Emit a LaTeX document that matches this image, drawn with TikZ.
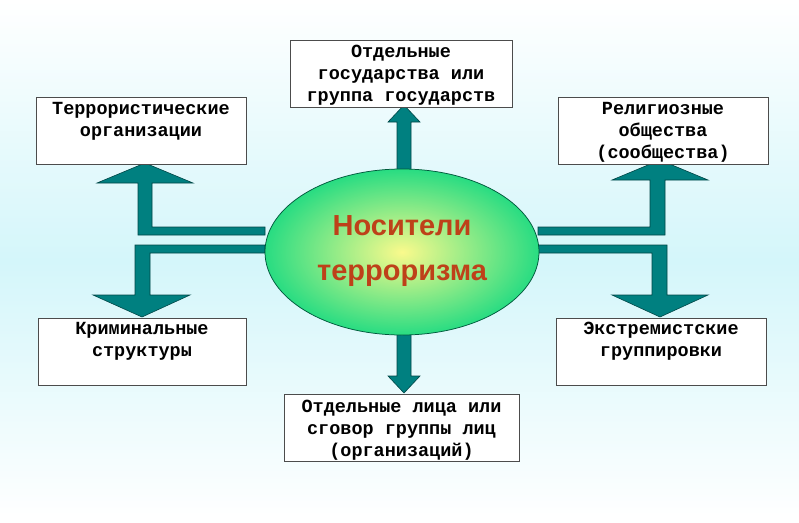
\documentclass[tikz,border=0pt]{standalone}
\usepackage{fontspec}
\setmainfont{Liberation Serif}
\newfontfamily\headfont{Liberation Sans}
\newfontfamily\boxfont{Liberation Mono}
\definecolor{arrowteal}{RGB}{0,128,128}
\definecolor{headred}{RGB}{190,65,25}
\definecolor{bgcyan}{RGB}{212,246,250}
\tikzset{every picture/.style={line width=0.75pt}}
\tikzset{
  infobox/.style={draw=black!70,fill=white,minimum height=67},
  boxtext/.style={anchor=north,inner sep=0pt,align=center,font=\boxfont\bfseries\fontsize{18.5}{22}\selectfont},
  tealarrow/.style={draw={rgb, 255:red, 0; green, 70; blue, 70},fill=arrowteal,line width=0.6pt}
}
\begin{document}
\begin{tikzpicture}[x=1pt,y=1pt,yscale=-1,xscale=1]
%background
\shade [top color=white,bottom color=bgcyan,shading angle=0] (0,0) rectangle (799,261);
\shade [top color=bgcyan,bottom color=white] (0,261) rectangle (799,522);
\useasboundingbox (0,0) rectangle (799,522);

%Arrows: upper left
\draw [tealarrow] (265,227) -- (152,227) -- (152,183) -- (193,183) -- (145,163) -- (97,183) -- (138,183) -- (138,235) -- (265,235) -- cycle ;
%Arrows: lower left
\draw [tealarrow] (265,245) -- (135,245) -- (135,295) -- (93,295) -- (142,317) -- (190,295) -- (150,295) -- (150,253) -- (265,253) -- cycle ;
%Arrows: upper right
\draw [tealarrow] (538,227) -- (650,227) -- (650,180) -- (612,180) -- (660,160) -- (708,180) -- (665,180) -- (665,235) -- (538,235) -- cycle ;
%Arrows: lower right
\draw [tealarrow] (538,245) -- (667,245) -- (667,295) -- (708,295) -- (660,317) -- (612,295) -- (652,295) -- (652,253) -- (538,253) -- cycle ;
%Arrows: top
\draw [tealarrow] (397,175) -- (397,122) -- (388,122) -- (404,105) -- (420,122) -- (411,122) -- (411,175) -- cycle ;
%Arrows: bottom
\draw [tealarrow] (397,330) -- (397,376) -- (388,376) -- (404,393) -- (420,376) -- (411,376) -- (411,330) -- cycle ;

%Ellipse
\shade [inner color={rgb,255:red,250;green,250;blue,140},outer color={rgb,255:red,40;green,220;blue,130}] (402,252) ellipse (137 and 83);
\draw [draw={rgb,255:red,0;green,90;blue,60}] (402,252) ellipse (137 and 83);
\node (centre) at (402,251) [align=center,text=headred,font=\headfont\bfseries\fontsize{29}{45}\selectfont] {Носители\\терроризма};

%Boxes
\node (states) at (401,73.5) [infobox,minimum width=222] {};
\node (terror) at (141,130.5) [infobox,minimum width=210] {};
\node (relig) at (663,130.5) [infobox,minimum width=210] {};
\node (crim) at (142,351.5) [infobox,minimum width=208] {};
\node (extrem) at (661,351.5) [infobox,minimum width=210] {};
\node (persons) at (401.5,428) [infobox,minimum width=235] {};

% Text Node
\node (statestxt) at (401,45) [boxtext] {Отдельные\\государства или\\группа государств};
\node (terrortxt) at (141,102) [boxtext] {Террористические\\организации};
\node (religtxt) at (663,102) [boxtext] {Религиозные\\общества\\(сообщества)};
\node (crimtxt) at (142,322) [boxtext] {Криминальные\\структуры};
\node (extremtxt) at (661,322) [boxtext] {Экстремистские\\группировки};
\node (personstxt) at (401.5,400) [boxtext] {Отдельные лица или\\сговор группы лиц\\(организаций)};

\end{tikzpicture}
\end{document}
